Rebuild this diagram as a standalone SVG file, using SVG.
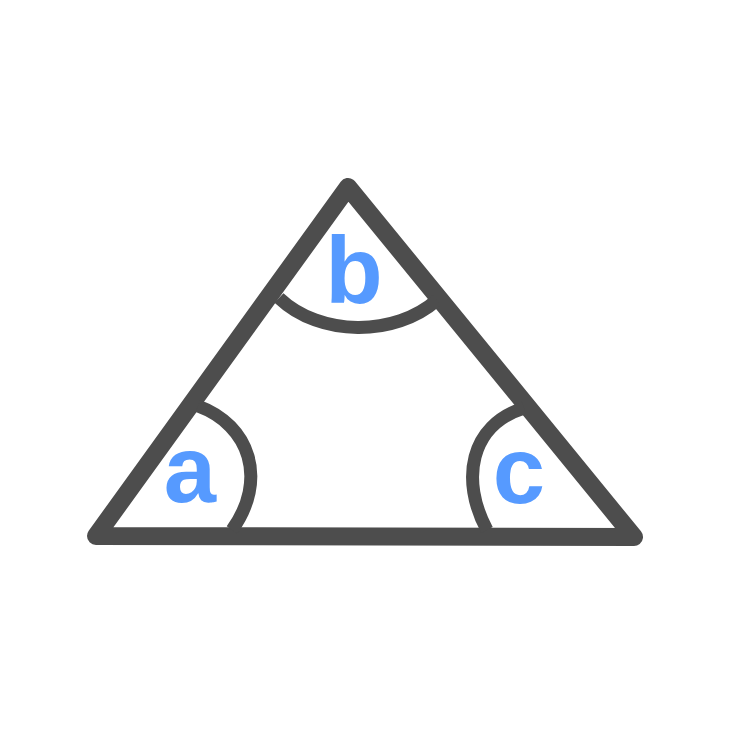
<svg xmlns="http://www.w3.org/2000/svg" width="744" height="744" viewBox="0 0 744 744">
<style>
.tri{fill:none;stroke:#4d4d4d;stroke-width:18;stroke-linejoin:round;stroke-linecap:round}
.arc{fill:none;stroke:#4d4d4d;stroke-width:13}
.lbl{fill:#569aff;font-family:"Liberation Sans",Arial,sans-serif;font-weight:bold;font-size:94px;text-anchor:middle}
</style>
<rect width="744" height="744" fill="#ffffff"/>
<g id="triangle">
<path class="tri" d="M348 187 L634 537 L96 536 Z"/>
</g>
<g id="connectors">
<path class="arc" d="M198 406 C250 425 268 480 232 530"/>
<path class="arc" d="M279 298 C320 337 395 337 437 300"/>
<path class="arc" d="M524 408 C470 425 460 480 487 530"/>
</g>
<g id="angle-a"><text class="lbl" x="190" y="502">a</text></g>
<g id="angle-b"><text class="lbl" x="354" y="303">b</text></g>
<g id="angle-c"><text class="lbl" x="519" y="503">c</text></g>
</svg>
